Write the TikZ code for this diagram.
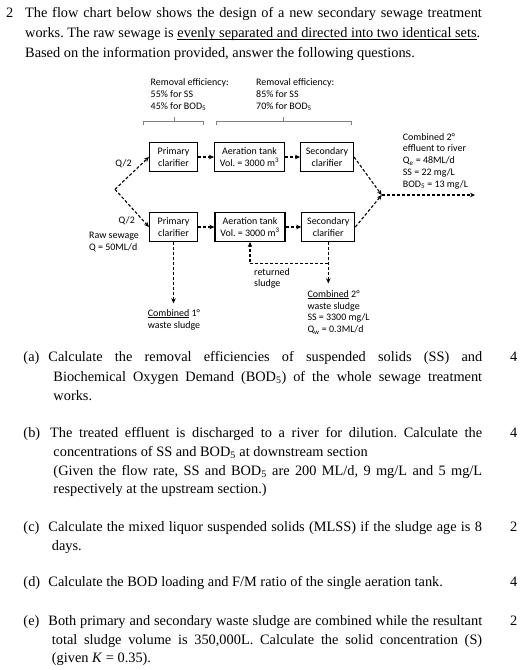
\documentclass[tikz,border=0pt]{standalone}
\usepackage{fontspec}
\setmainfont{Liberation Serif}
\newfontfamily\carl{Carlito}
\usetikzlibrary{arrows.meta}
\frenchspacing
\newcommand\myul[2][1.6pt]{\setbox0\hbox{#2}\rlap{\rule[-#1]{\wd0}{0.55pt}}\box0\relax}
\begin{document}
\begin{tikzpicture}[x=1bp,y=-1bp,
  qtext/.style={anchor=base west, inner sep=0pt, font=\fontsize{14.4}{17}\selectfont},
  dtext/.style={anchor=north west, inner sep=0pt, align=left, font=\carl\fontsize{10}{11.8}\selectfont},
  box/.style={draw, line width=1.1bp, minimum height=29bp, inner sep=0pt, align=center, font=\carl\fontsize{10}{12}\selectfont},
  flow/.style={dash pattern=on 3bp off 2bp, line width=1.1bp, -{Stealth[length=5bp,width=4.5bp]}},
  bracket/.style={draw=gray, line width=0.7bp}
]
\fill[white] (0,0) rectangle (529,670);
\useasboundingbox (0,0) rectangle (529,670);

% header
\node[qtext] (n2) at (6,17.5) {2};
\node[qtext] (h1) at (25,17.5) {\makebox[456.7bp][s]{The flow chart below shows the design of a new secondary sewage treatment}};
\node[qtext] (h2) at (25,38) {works. The raw sewage is \myul{evenly separated and directed into two identical sets}.};
\node[qtext] (h3) at (25,58) {Based on the information provided, answer the following questions.};

% brackets and removal efficiencies
\node[dtext] (re1) at (150.5,78.8) {Removal efficiency:\\55\% for SS\\45\% for BOD\textsubscript{5}};
\node[dtext] (re2) at (256,78.8) {Removal efficiency:\\85\% for SS\\70\% for BOD\textsubscript{5}};
\draw[bracket] (143.3,125) -- (143.3,121) -- (203.3,121) -- (203.3,125);
\draw[bracket] (174.3,121) -- (174.3,117.5);
\draw[bracket] (216.7,125) -- (216.7,121) -- (351,121) -- (351,125);
\draw[bracket] (283.3,121) -- (283.3,117.5);

% boxes
\node[box, minimum width=48bp] (P1) at (173.5,157) {Primary\\clarifier};
\node[box, minimum width=70bp] (A1) at (249.5,157) {Aeration tank\\Vol. = 3000 m\textsuperscript{3}};
\node[box, minimum width=53bp] (S1) at (327,157) {Secondary\\clarifier};
\node[box, minimum width=48bp] (P2) at (173.5,227) {Primary\\clarifier};
\node[box, minimum width=70bp] (A2) at (250,227) {Aeration tank\\Vol. = 3000 m\textsuperscript{3}};
\node[box, minimum width=53bp] (S2) at (328.3,227) {Secondary\\clarifier};

\coordinate (J) at (115,189.3);
\coordinate (M) at (381.7,195);
\coordinate (E) at (475,195);
\coordinate (W1) at (173.5,303.3);
\coordinate (W2) at (328.3,283.3);
\coordinate (R) at (328.3,263.3);

\draw[flow] (J) -- (P1.west);
\draw[flow] (J) -- (P2.west);
\draw[flow] (P1.east) -- (A1.west);
\draw[flow] (A1.east) -- (S1.west);
\draw[flow] (P2.east) -- (A2.west);
\draw[flow] (A2.east) -- (S2.west);
\draw[flow] (S1.east) -- (M);
\draw[flow] (S2.east) -- (M);
\draw[flow] (M) -- (E);
\draw[flow] (P2.south) -- (W1);
\draw[flow] (S2.south) -- (W2);
\draw[flow] (R) -| (A2.south);

% labels
\node[font=\carl\fontsize{10}{11}\selectfont, inner sep=0pt] (q1) at (123.5,163.3) {Q/2};
\node[font=\carl\fontsize{10}{11}\selectfont, inner sep=0pt] (q2) at (126.7,220.5) {Q/2};
\node[dtext] (raw) at (89,232.2) {Raw sewage\\Q = 50ML/d};
\node[dtext] (c1) at (147.7,309.5) {\myul[1.2pt]{Combined} 1°\\waste sludge};
\node[dtext] (ret) at (254,267.9) {returned\\sludge};
\node[dtext] (c2) at (307.3,290.2) {\myul[1.2pt]{Combined} 2°\\waste sludge\\SS = 3300 mg/L\\Q\textsubscript{w} = 0.3ML/d};
\node[dtext] (eff) at (402.7,132.9) {Combined 2°\\effluent to river\\Q\textsubscript{e} = 48ML/d\\SS = 22 mg/L\\BOD\textsubscript{5} = 13 mg/L};

% questions
\node[qtext] (la) at (23.3,361.5) {(a)};
\node[qtext] (a1) at (48.3,361.5) {\makebox[433.7bp][s]{Calculate the removal efficiencies of suspended solids (SS) and}};
\node[qtext] (a2) at (53.3,381.5) {\makebox[428.7bp][s]{Biochemical Oxygen Demand (BOD\textsubscript{5}) of the whole sewage treatment}};
\node[qtext] (a3) at (53.3,400) {works.};
\node[qtext] (ma) at (510,361.5) {4};

\node[qtext] (lb) at (23.3,437) {(b)};
\node[qtext] (b1) at (50,437) {\makebox[432bp][s]{The treated effluent is discharged to a river for dilution. Calculate the}};
\node[qtext] (b2) at (53.3,456.5) {concentrations of SS and BOD\textsubscript{5} at downstream section};
\node[qtext] (b3) at (53.3,475) {\makebox[428.7bp][s]{(Given the flow rate, SS and BOD\textsubscript{5} are 200 ML/d, 9 mg/L and 5 mg/L}};
\node[qtext] (b4) at (53.3,493) {respectively at the upstream section.)};
\node[qtext] (mb) at (510,437) {4};

\node[qtext] (lc) at (23.3,531.5) {(c)};
\node[qtext] (c1q) at (48.3,531.5) {\makebox[433.4bp][s]{Calculate the mixed liquor suspended solids (MLSS) if the sludge age is 8}};
\node[qtext] (c2q) at (51.7,550) {days.};
\node[qtext] (mc) at (510,531.5) {2};

\node[qtext] (ld) at (23.3,586.5) {(d)};
\node[qtext] (d1) at (48.3,586.5) {Calculate the BOD loading and F/M ratio of the single aeration tank.};
\node[qtext] (md) at (510,586.5) {4};

\node[qtext] (le) at (23.3,625) {(e)};
\node[qtext] (e1) at (48.3,625) {\makebox[433.7bp][s]{Both primary and secondary waste sludge are combined while the resultant}};
\node[qtext] (e2) at (51.7,644.5) {\makebox[430.3bp][s]{total sludge volume is 350,000L. Calculate the solid concentration (S)}};
\node[qtext] (e3) at (51.7,662) {(given \textit{K} = 0.35).};
\node[qtext] (me) at (510,625) {2};
\end{tikzpicture}
\end{document}
